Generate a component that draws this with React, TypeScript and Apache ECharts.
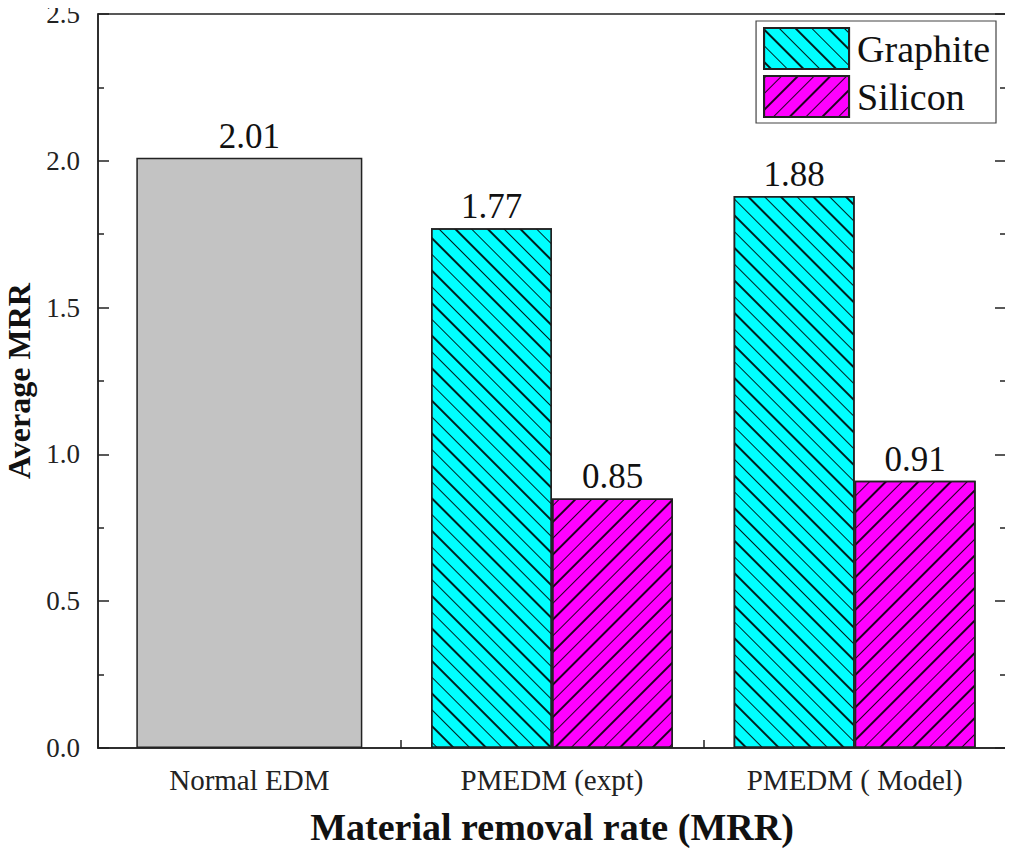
import React, { useEffect, useRef } from "react";
import * as echarts from "echarts";

const categories = ["Normal EDM", "PMEDM (expt)", "PMEDM ( Model)"];
const normalValues: (number | string)[] = [2.01, "-", "-"];
const graphiteValues: (number | string)[] = ["-", 1.77, 1.88];
const siliconValues: (number | string)[] = ["-", 0.85, 0.91];
const yMin = 0;
const yMax = 2.5;
const yStep = 0.5;

const FONT = "'Liberation Serif', 'Times New Roman', serif";

// Diagonal hatch: a heavy stroke followed by a faint one, repeating.
const hatch = (rotation: number) => ({
  symbol: "rect",
  symbolSize: 1,
  dashArrayX: [1, 0],
  dashArrayY: [2, 10, 0.8, 10],
  rotation,
  color: "rgba(0,0,0,0.88)",
});

const valueLabel = {
  show: true,
  position: "top",
  distance: 4,
  fontFamily: FONT,
  fontSize: 35,
  color: "#111",
  formatter: (p: any) => Number(p.value).toFixed(2),
};

export default function App() {
  const ref = useRef<HTMLDivElement>(null);

  useEffect(() => {
    if (!ref.current) return;
    const chart = echarts.init(ref.current, undefined, { renderer: "svg" });
    const valueAxisBase = {
      type: "value",
      min: yMin,
      max: yMax,
      interval: yStep,
      splitLine: { show: false },
      axisLine: { show: true, lineStyle: { color: "#222", width: 1.5 } },
      axisTick: { show: true, inside: true, length: 11, lineStyle: { color: "#222", width: 1.5 } },
      minorTick: { show: true, splitNumber: 2, length: 6, lineStyle: { color: "#222", width: 1.5 } },
    };
    chart.setOption({
      animation: false,
      backgroundColor: "#fff",
      grid: {
        left: 98,
        right: 7,
        top: 14,
        bottom: 112,
        outerBoundsMode: "none",
        containLabel: false,
        show: true,
        borderColor: "#222",
        borderWidth: 1.5,
        backgroundColor: "transparent",
      },
      legend: {
        data: ["Graphite", "Silicon"],
        orient: "vertical",
        right: 17,
        top: 21,
        icon: "rect",
        itemWidth: 85,
        itemHeight: 41,
        itemGap: 5,
        padding: [6, 6, 5, 7],
        borderColor: "#444",
        borderWidth: 1.2,
        backgroundColor: "#fff",
        textStyle: { fontFamily: FONT, fontSize: 38, color: "#111", padding: [0, 0, 0, 3] },
      },
      xAxis: [
        {
          type: "category",
          data: categories,
          position: "bottom",
          axisLine: { show: true, lineStyle: { color: "#222", width: 1.5 } },
          axisTick: { show: true, inside: true, length: 8, lineStyle: { color: "#222", width: 1.5 } },
          axisLabel: { fontFamily: FONT, fontSize: 29, color: "#222", margin: 17 },
          name: "Material removal rate (MRR)",
          nameLocation: "middle",
          nameGap: 60,
          nameTextStyle: { fontFamily: FONT, fontSize: 38, fontWeight: "bold", color: "#111" },
        },
        {
          type: "category",
          data: categories,
          position: "bottom",
          show: false,
        },
      ],
      yAxis: [
        {
          ...valueAxisBase,
          position: "left",
          axisLabel: {
            fontFamily: FONT,
            fontSize: 27,
            color: "#222",
            margin: 18,
            padding: [6, 0, 0, 0],
            formatter: (v: number) => v.toFixed(1),
          },
          name: "Average MRR",
          nameLocation: "middle",
          nameGap: 63,
          nameTextStyle: { fontFamily: FONT, fontSize: 32, fontWeight: "bold", color: "#111" },
        },
        {
          ...valueAxisBase,
          position: "right",
          axisLabel: { show: false },
        },
      ],
      series: [
        {
          name: "Normal EDM",
          type: "bar",
          xAxisIndex: 1,
          yAxisIndex: 0,
          barWidth: 226,
          data: normalValues,
          itemStyle: { color: "#c3c3c3", borderColor: "#222", borderWidth: 1.5 },
          label: valueLabel,
        },
        {
          name: "Graphite",
          type: "bar",
          xAxisIndex: 0,
          yAxisIndex: 0,
          barWidth: 121,
          barGap: "0%",
          data: graphiteValues,
          itemStyle: {
            color: "#00ffff",
            borderColor: "#222",
            borderWidth: 1.5,
            decal: hatch(Math.PI / 4),
          },
          label: valueLabel,
        },
        {
          name: "Silicon",
          type: "bar",
          xAxisIndex: 0,
          yAxisIndex: 0,
          barWidth: 121,
          barGap: "0%",
          data: siliconValues,
          itemStyle: {
            color: "#ff00ff",
            borderColor: "#222",
            borderWidth: 1.5,
            decal: hatch(-Math.PI / 4),
          },
          label: valueLabel,
        },
      ],
    });
    return () => chart.dispose();
  }, []);

  return <div ref={ref} style={{ width: 1013, height: 860, margin: -8 }} />;
}
